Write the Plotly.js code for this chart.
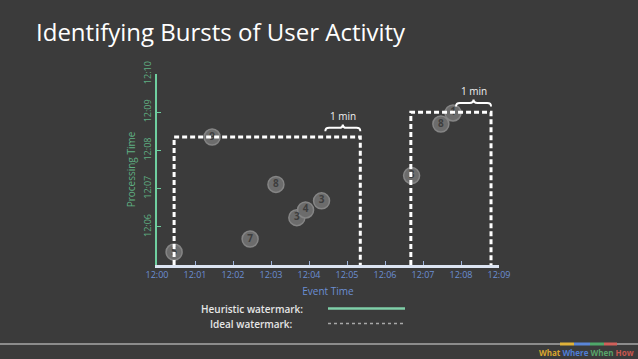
<!DOCTYPE html>
<html>
<head>
<meta charset="utf-8">
<script src="https://cdn.plot.ly/plotly-3.0.1.min.js"></script>
<style>html,body{margin:0;padding:0;background:#3b3b3b;}#chart{width:638px;height:359px;}</style>
</head>
<body>
<div id="chart"></div>
<script>
// Data (minutes after 12:00)
const values = ['5', '9', '7', '8', '3', '4', '3', '3', '8', '1'];
const eventTime = [0.45, 1.45, 2.45, 3.13, 3.68, 3.91, 4.33, 6.70, 7.47, 7.79];
const processingTime = [5.34, 8.35, 5.68, 7.11, 6.24, 6.44, 6.68, 7.34, 8.69, 8.98];

// Burst windows (dashed boxes)
const windowStart = [0.45, 6.68];
const windowEnd = [5.35, 8.79];
const windowWatermark = [8.35, 9.0];
const gapLabel = '1 min';

const xTickVals = [0, 1, 2, 3, 4, 5, 6, 7, 8, 9];
const xTickText = ['12:00', '12:01', '12:02', '12:03', '12:04', '12:05', '12:06', '12:07', '12:08', '12:09'];
const yTickVals = [6, 7, 8, 9, 10];
const yTickText = ['12:06', '12:07', '12:08', '12:09', '12:10'];

const W = 638, H = 359, L = 157, R = 139, T = 74, B = 94;
const pw = W - L - R, ph = H - T - B;
const px = v => (v - L) / pw;
const py = v => (H - B - v) / ph;

const GREEN = '#5fae82', BLUE = '#6b8fd4', FONT = 'Open Sans, sans-serif';

const traces = [{
  type: 'scatter', mode: 'markers+text',
  x: eventTime, y: processingTime, text: values,
  textposition: 'middle center',
  textfont: {family: FONT, size: 10, color: '#3e3e3e', weight: 700},
  marker: {size: 16, color: '#6c6c6c', line: {color: '#858585', width: 1.5}},
  hoverinfo: 'skip', showlegend: false, cliponaxis: false
}];

const shapes = [];
const annotations = [];
windowStart.forEach((s, i) => {
  const e = windowEnd[i], top = windowWatermark[i];
  traces.push({
    type: 'scatter', mode: 'lines',
    x: [s, s, e, e], y: [5, top, top, 5],
    line: {color: '#ffffff', width: 3, dash: '5px,3px'},
    hoverinfo: 'skip', showlegend: false, cliponaxis: false
  });
  // brace over the last minute
  const xa = e - 0.92, xb = e, xm = (xa + xb) / 2;
  const y0 = top + 0.15, ym = top + 0.24, y1 = top + 0.33, d = 0.1;
  shapes.push({
    type: 'path', xref: 'x', yref: 'y',
    path: `M ${xa},${y0} Q ${xa},${ym} ${xa + d},${ym} L ${xm - d},${ym} Q ${xm},${ym} ${xm},${y1} ` +
          `Q ${xm},${ym} ${xm + d},${ym} L ${xb - d},${ym} Q ${xb},${ym} ${xb},${y0}`,
    line: {color: '#ffffff', width: 2}
  });
  annotations.push({
    x: xm, y: top + 0.55, xref: 'x', yref: 'y', text: gapLabel, showarrow: false,
    xanchor: 'center', yanchor: 'middle',
    font: {family: FONT, size: 10, color: '#f0f0f0'}
  });
});

// legend
annotations.push({x: px(251.5), y: py(309), xref: 'paper', yref: 'paper', text: 'Heuristic watermark:',
  showarrow: false, xanchor: 'center', yanchor: 'middle', font: {family: FONT, size: 10, color: '#e6e6e6', weight: 600}});
annotations.push({x: px(251.5), y: py(324), xref: 'paper', yref: 'paper', text: 'Ideal watermark:',
  showarrow: false, xanchor: 'center', yanchor: 'middle', font: {family: FONT, size: 10, color: '#e6e6e6', weight: 600}});
shapes.push({type: 'line', xref: 'paper', yref: 'paper', x0: px(328), x1: px(405), y0: py(308.5), y1: py(308.5),
  line: {color: '#7fcfa8', width: 2.5}});
shapes.push({type: 'line', xref: 'paper', yref: 'paper', x0: px(328), x1: px(405), y0: py(323.5), y1: py(323.5),
  line: {color: '#a8a8a8', width: 1.5, dash: 'dot'}});

// footer bar
shapes.push({type: 'line', xref: 'paper', yref: 'paper', x0: px(0), x1: px(638), y0: py(344), y1: py(344),
  line: {color: '#8c8c8c', width: 2}});
[['#e0b23a', 560, 574], ['#5a86d8', 574, 590], ['#4fa86a', 590, 604], ['#d0605a', 604, 617]].forEach(c => {
  shapes.push({type: 'line', xref: 'paper', yref: 'paper', x0: px(c[1]), x1: px(c[2]), y0: py(344), y1: py(344),
    line: {color: c[0], width: 3}});
});
annotations.push({x: px(636), y: py(352), xref: 'paper', yref: 'paper', xanchor: 'right', yanchor: 'middle',
  showarrow: false,
  text: '<span style="color:#d9a62e">What</span> <span style="color:#4f7fd6">Where</span> <span style="color:#58a46a">When</span> <span style="color:#c8574f">How</span>',
  font: {family: FONT, size: 8, weight: 700}});

const layout = {
  width: W, height: H,
  paper_bgcolor: '#3b3b3b', plot_bgcolor: '#3b3b3b',
  margin: {l: L, r: R, t: T, b: B},
  title: {text: 'Identifying Bursts of User Activity', x: 36 / W, xref: 'container', xanchor: 'left',
    y: 1 - 33 / H, yref: 'container', yanchor: 'middle',
    font: {family: FONT, size: 24, color: '#ffffff'}},
  xaxis: {range: [0, 9], tickvals: xTickVals, ticktext: xTickText, showgrid: false, zeroline: false,
    showline: true, linecolor: '#dce4f2', linewidth: 2.5, ticks: 'inside', ticklen: 4, tickcolor: '#9fb4dc',
    tickfont: {family: FONT, size: 9, color: BLUE},
    title: {text: 'Event Time', font: {family: FONT, size: 10, color: BLUE}, standoff: 8}},
  yaxis: {range: [5, 10], tickvals: yTickVals, ticktext: yTickText, showgrid: false, zeroline: false,
    showline: true, linecolor: '#6fcf9f', linewidth: 2.5, ticks: 'inside', ticklen: 4, tickcolor: '#6fcf9f',
    tickangle: -90, tickfont: {family: FONT, size: 9, color: GREEN},
    title: {text: 'Processing Time', font: {family: FONT, size: 10, color: GREEN}, standoff: 4}},
  shapes: shapes, annotations: annotations, showlegend: false
};

Plotly.newPlot('chart', traces, layout, {staticPlot: true, displayModeBar: false});
</script>
</body>
</html>
